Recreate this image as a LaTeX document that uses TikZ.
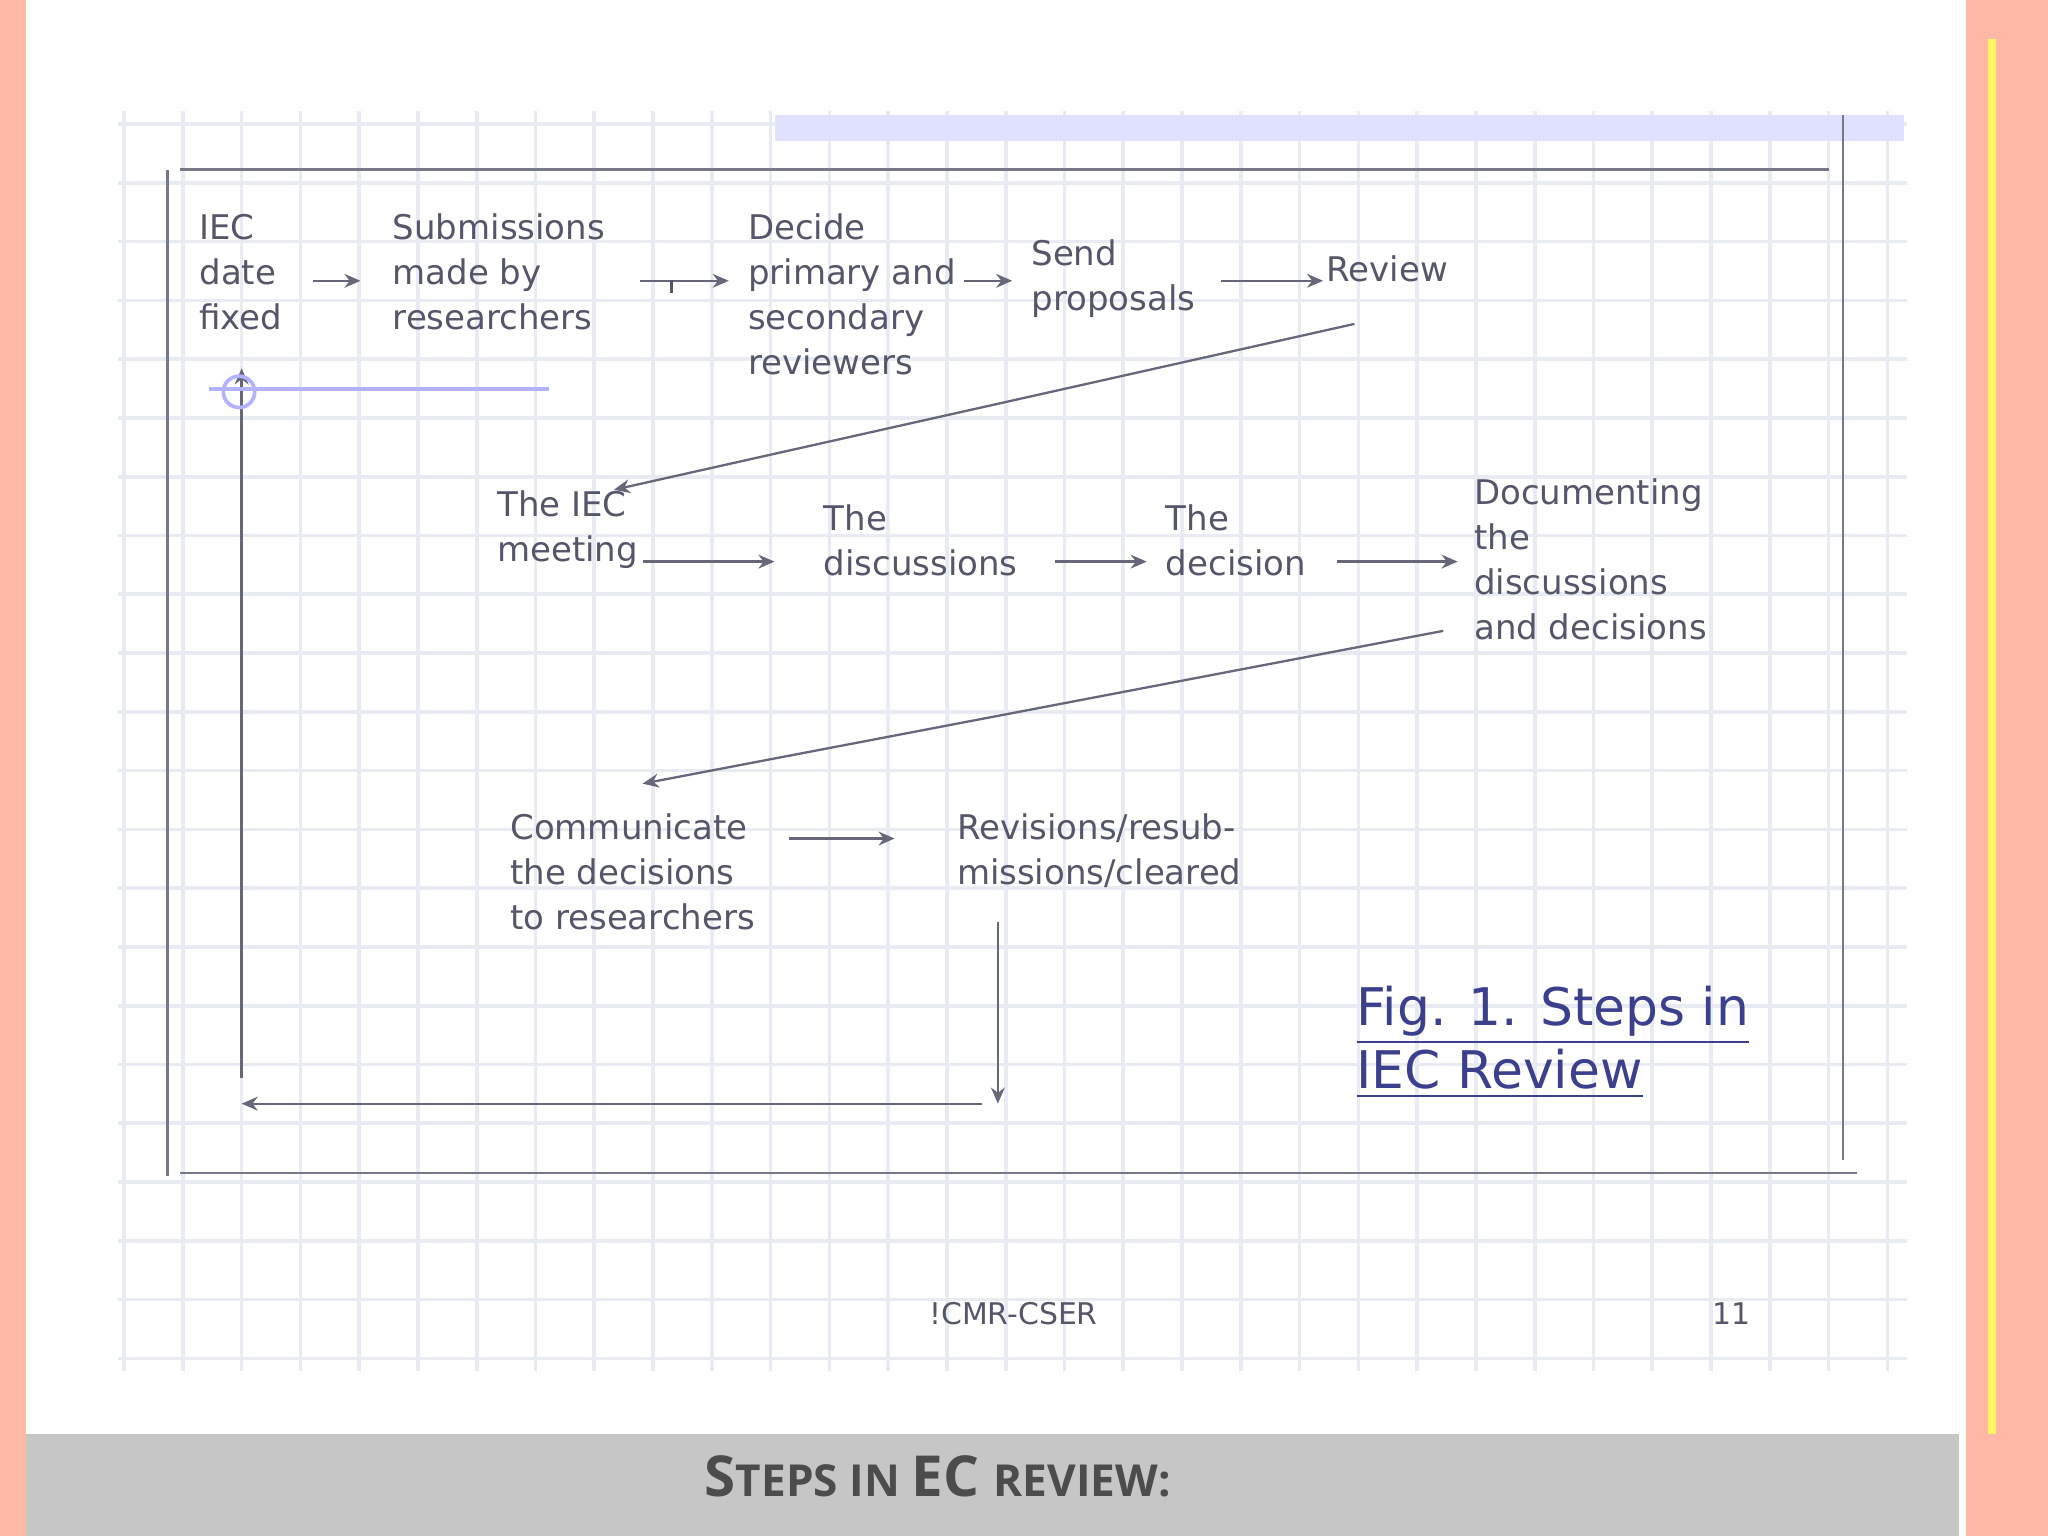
\documentclass[tikz,border=0pt]{standalone}
\usepackage{fontspec}
\setmainfont{DejaVu Sans}
\newfontfamily\titlefont{Open Sans}
\usetikzlibrary{arrows.meta}
\definecolor{txt}{HTML}{55566A}
\definecolor{gridc}{HTML}{E8EBF1}
\definecolor{figc}{HTML}{3C3F8C}
\tikzset{
  lbl/.style={anchor=north west,align=left,inner sep=0pt,text=txt,font=\fontsize{7.4}{9.8}\selectfont},
  arr/.style={draw=txt!90,line width=0.5pt,-{Stealth[length=3.5pt,width=3pt]}},
  frm/.style={draw=txt!80,line width=0.6pt}
}
\begin{document}
\begin{tikzpicture}[x=0.01cm,y=-0.01cm]
\useasboundingbox (0,0) rectangle (1568,1176);
\fill[white] (0,0) rectangle (1568,1176);
% side strips
\fill[orange!40!red!35] (0,0) rectangle (20,1176);
\fill[orange!40!red!35] (1505,0) rectangle (1568,1176);
\fill[yellow!60] (1522,30) rectangle (1528,1098);
\fill[white] (20,0) rectangle (1500,1098);
% grid
\foreach \x in {95,140,...,1460} \draw[gridc,line width=0.8pt] (\x,85) -- (\x,1050);
\foreach \y in {95,140,...,1050} \draw[gridc,line width=0.8pt] (90,\y) -- (1460,\y);
\fill[blue!12] (593,88) rectangle (1458,108);
% frame
\draw[frm] (138,130) -- (1400,130);
\draw[frm] (128,130) -- (128,900);
\draw[frm] (1411,88) -- (1411,888);
\draw[frm] (138,898) -- (1422,898);
% nodes
\node[lbl] (n1) at (152,163) {IEC\\date\\fixed};
\node[lbl] (n2) at (300,163) {Submissions\\made by\\researchers};
\node[lbl] (n3) at (572,163) {Decide\\primary and\\secondary\\reviewers};
\node[lbl] (n4) at (789,183) {Send\\proposals};
\node[lbl] (n5) at (1015,195) {Review};
\node[lbl] (n6) at (380,375) {The IEC\\meeting};
\node[lbl] (n7) at (630,386) {The\\discussions};
\node[lbl] (n8) at (892,386) {The\\decision};
\node[lbl] (n9) at (1128,366) {Documenting\\the\\discussions\\and decisions};
\node[lbl] (n10) at (390,622) {Communicate\\the decisions\\to researchers};
\node[lbl] (n11) at (732,622) {Revisions/resub-\\missions/cleared};
\node[anchor=north west,align=left,inner sep=0pt,text=figc,font=\fontsize{11.3}{13.8}\selectfont] (fig) at (1038,754) {\underline{Fig. 1. Steps in}\\\underline{IEC Review}};
\node[text=txt,font=\fontsize{6.5}{8}\selectfont] (ft) at (776,1006) {!CMR-CSER};
\node[text=txt,font=\fontsize{6.5}{8}\selectfont] (pg) at (1326,1006) {11};
% connectors
\coordinate (a1) at (240,215); \coordinate (b1) at (276,215);
\coordinate (a2) at (490,215); \coordinate (b2) at (558,215);
\coordinate (a3) at (738,215); \coordinate (b3) at (775,215);
\coordinate (a4) at (935,215); \coordinate (b4) at (1013,215);
\coordinate (a5) at (1037,248); \coordinate (b5) at (470,375);
\coordinate (a6) at (492,430); \coordinate (b6) at (593,430);
\coordinate (a7) at (808,430); \coordinate (b7) at (878,430);
\coordinate (a8) at (1024,430); \coordinate (b8) at (1116,430);
\coordinate (a9) at (1105,483); \coordinate (b9) at (492,600);
\coordinate (a10) at (604,642); \coordinate (b10) at (685,642);
\coordinate (c1) at (764,706); \coordinate (c2) at (764,845);
\coordinate (c3) at (752,845); \coordinate (c4) at (185,845);
\coordinate (c5) at (185,825); \coordinate (c6) at (185,282);
\foreach \a/\b in {a1/b1,a2/b2,a3/b3,a4/b4,a5/b5,a6/b6,a7/b7,a8/b8,a9/b9,a10/b10,c1/c2,c3/c4,c5/c6}
  \draw[arr] (\a) -- (\b);
\draw[txt,line width=0.6pt] (514,214) -- (514,224);
\draw[blue!30,line width=0.8pt] (160,298) -- (420,298);
\draw[blue!30,line width=0.8pt] (183,300) circle (12);
% bottom bar
\fill[gray!45] (20,1098) rectangle (1500,1176);
\node[text=black!70,font=\titlefont\bfseries\fontsize{12.3}{14}\selectfont] (title) at (718,1130) {S\fontsize{9.6}{11}\selectfont TEPS IN \fontsize{12.3}{14}\selectfont EC \fontsize{9.6}{11}\selectfont REVIEW:};
\end{tikzpicture}
\end{document}
